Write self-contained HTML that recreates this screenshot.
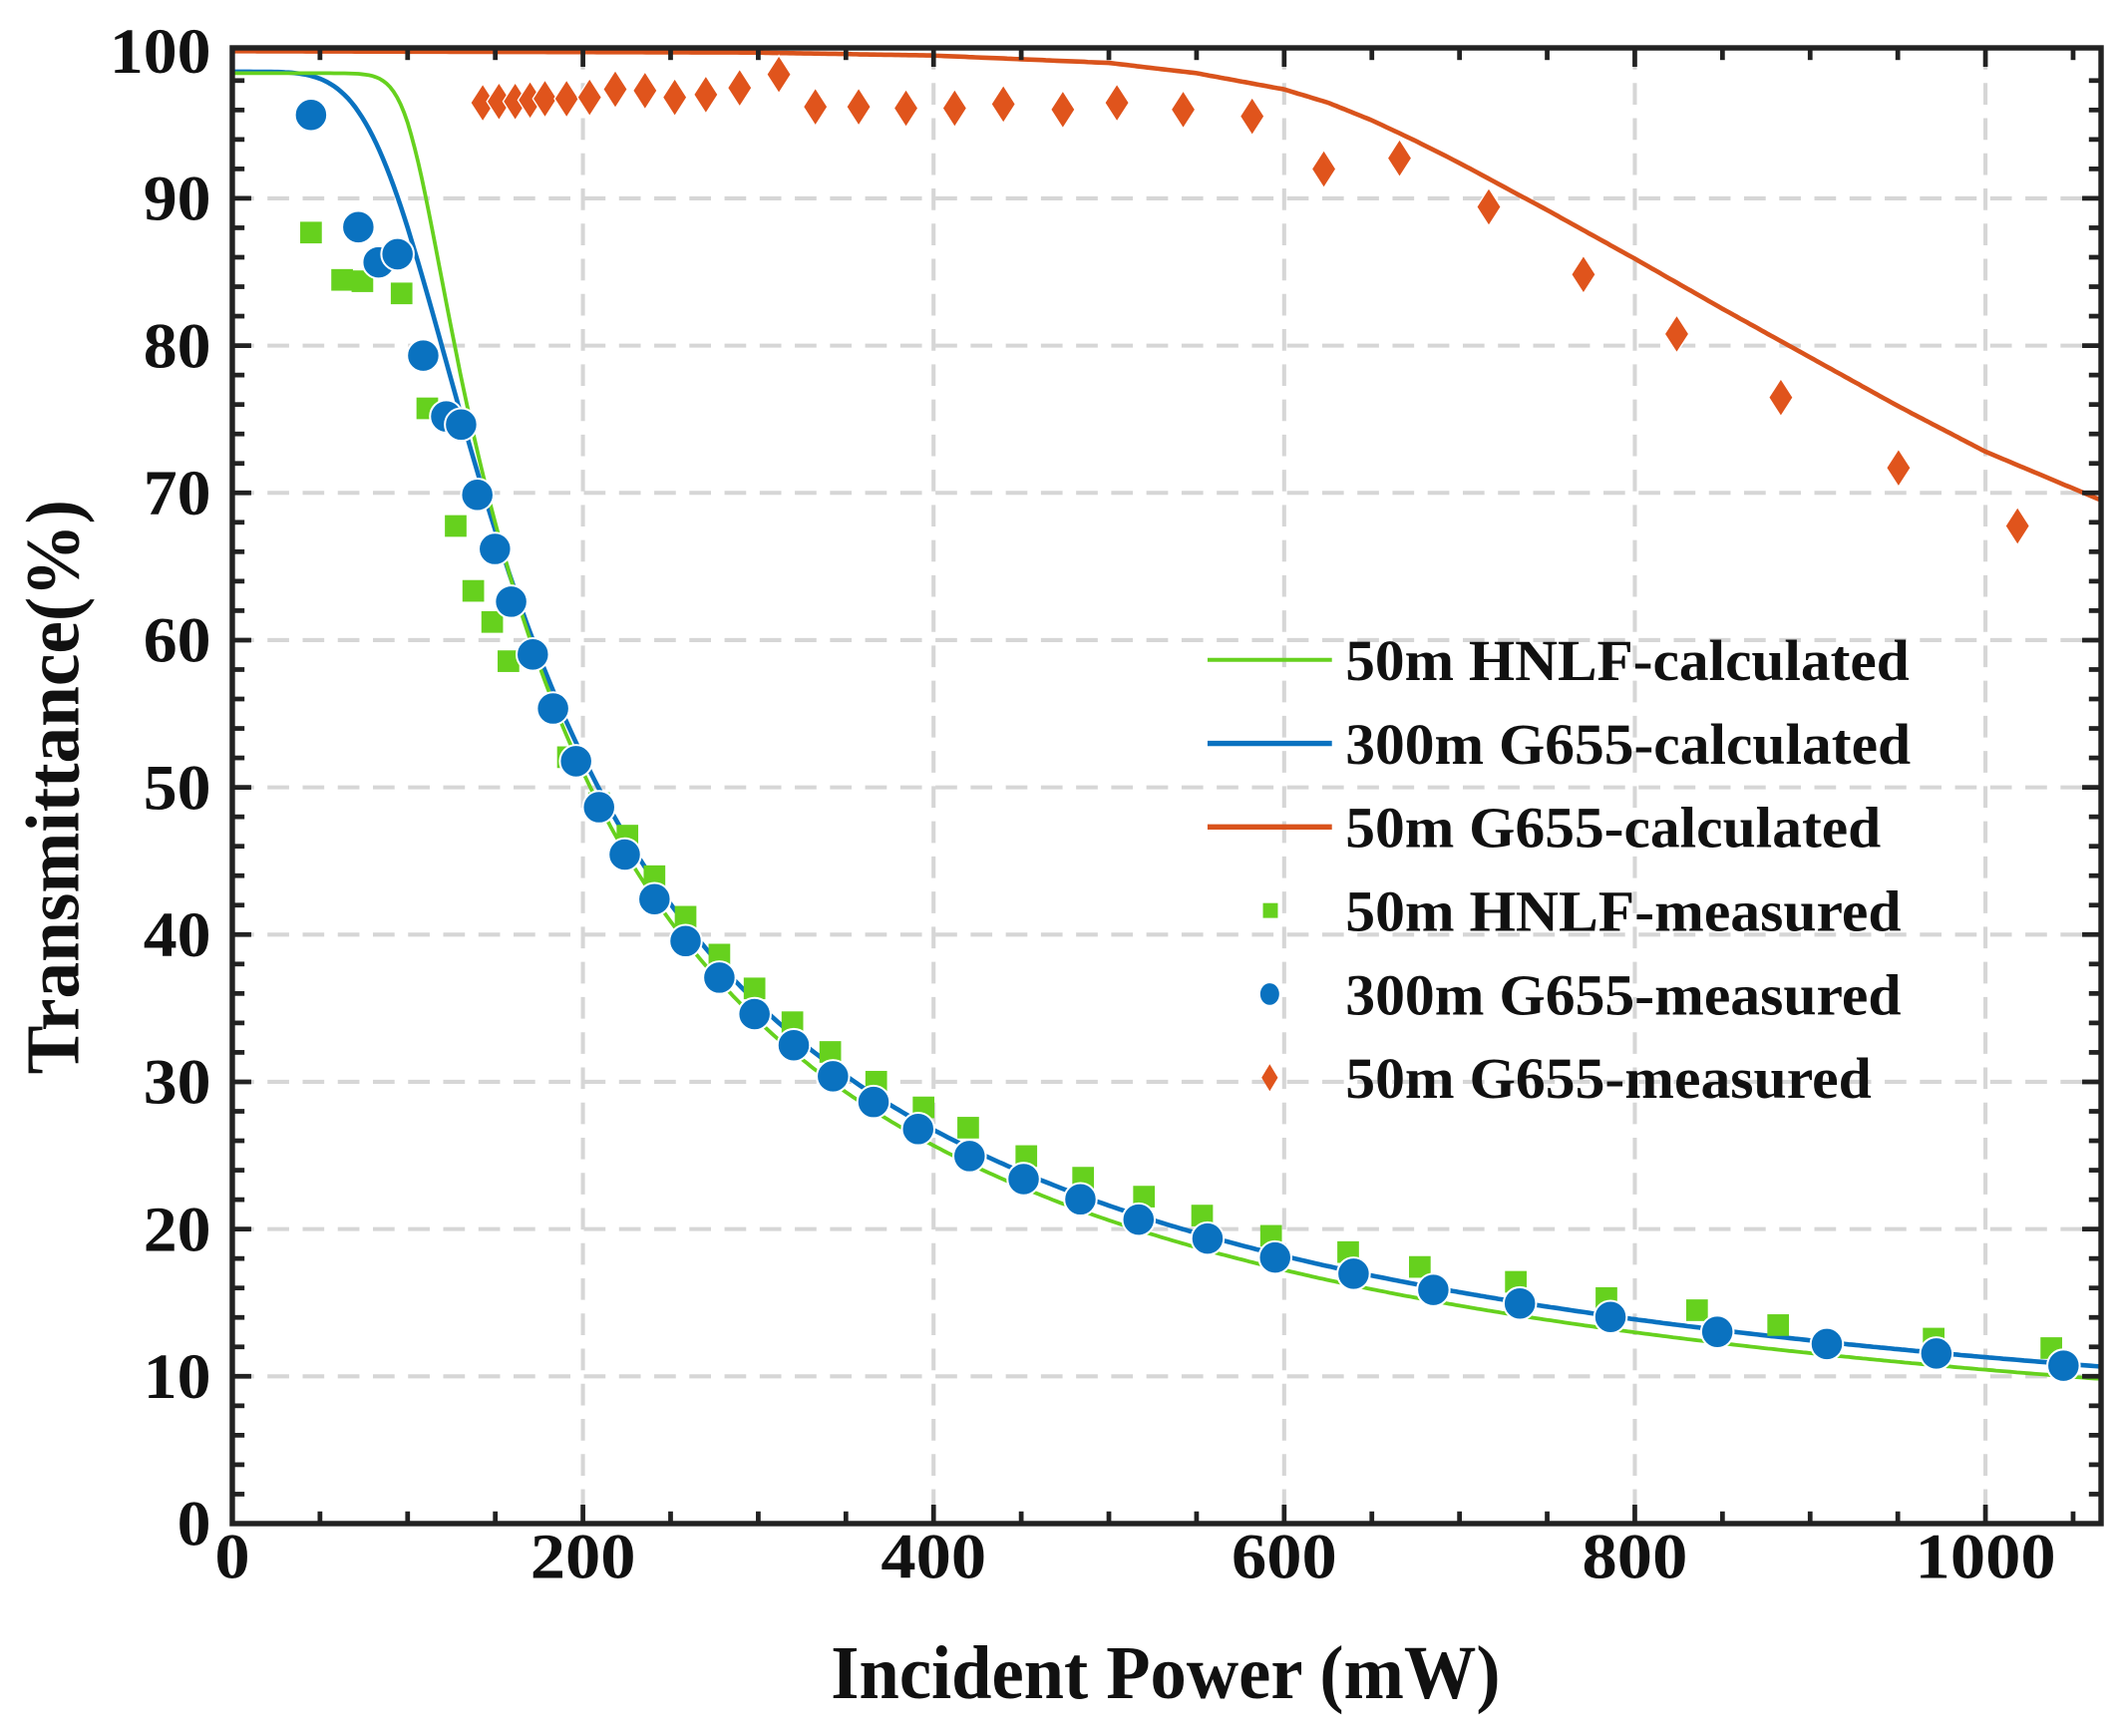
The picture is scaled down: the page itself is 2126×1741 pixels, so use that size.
<!DOCTYPE html>
<html><head><meta charset="utf-8"><style>
html,body{margin:0;padding:0;background:#fff;}
svg{display:block;}
text{font-family:"Liberation Serif","Times New Roman",serif;font-weight:bold;fill:#111;}
</style></head><body>
<svg id="s" width="2126" height="1741" viewBox="0 0 1567.8 1283.9" preserveAspectRatio="none" xmlns="http://www.w3.org/2000/svg">
<rect width="1567.8" height="1283.9" fill="#fff"/>
<g id="grid" stroke="#d6d6d6" stroke-width="3" stroke-dasharray="16 10"></g>
<g id="curves" fill="none" stroke-width="3"></g>
<g id="pts"></g>
<g id="axes"></g>
<g id="labels"></g>
<g id="legend"></g>
<text x="862" y="1256" font-family="Liberation Serif, serif" font-size="56" text-anchor="middle" textLength="495" lengthAdjust="spacingAndGlyphs">Incident Power (mW)</text>
<text transform="translate(58,582) rotate(-90)" font-family="Liberation Serif, serif" font-size="56" text-anchor="middle" textLength="425" lengthAdjust="spacingAndGlyphs">Transmittance(%)</text>
</svg>
<script>
var NS="http://www.w3.org/2000/svg";
function el(p,t,a){var e=document.createElementNS(NS,t);for(var k in a)e.setAttribute(k,a[k]);document.getElementById(p).appendChild(e);return e;}
var L=171.8,R=1553.8,T=35.4,B=1126.8;
function X(p){return L+p*1.2965;}function Y(t){return B-t*10.89;}
for(var p=200;p<=1000;p+=200)el("grid","line",{x1:X(p),x2:X(p),y1:T,y2:B});
for(var t=10;t<100;t+=10)el("grid","line",{x1:L,x2:R,y1:Y(t),y2:Y(t)});
function soft(a,b,n){return Math.pow(Math.pow(a,-n)+Math.pow(b,-n),-1/n);}
function path(f,col,w){var d="";for(var p=0;p<=1066;p+=2){var v=f(Math.max(p,0.5));d+=(p?"L":"M")+X(p).toFixed(1)+" "+Y(v).toFixed(1);}el("curves","path",{d:d,stroke:col,"stroke-width":w});}
var op=[[0,100],[300,99.9],[400,99.7],[500,99.2],[550,98.5],[600,97.4],[625,96.5],[650,95.3],[675,93.9],[700,92.4],[725,90.8],[750,89.2],[800,85.9],[850,82.5],[900,79.2],[950,75.9],[1000,72.8],[1066,69.5]];
function orange(p){for(var i=1;i<op.length;i++){if(p<=op[i][0]){var a=op[i-1],b=op[i];return a[1]+(b[1]-a[1])*(p-a[0])/(b[0]-a[0]);}}return 69.5;}
path(function(p){return soft(98.6,10300/p+1.0,5);},"#0a72c0",3.4);
path(function(p){return soft(98.5,10150/p+0.3,14);},"#66d11e",2.8);
path(orange,"#d9531c",3.4);
var g=[[230,172],[253,207],[268,208],[297,217],[316,302],[337,389],[350,437],[364,460],[376,489],[420,560],[443,594],[464,618],[484,648],[507,678],[532,706],[558,731],[586,756],[614,778],[648,800],[683,819],[716,834],[759,855],[801,871],[846,885],[889,899],[940,914],[997,926],[1050,937],[1121,948],[1188,960],[1255,969],[1315,980],[1430,990],[1517,997]];
g.forEach(function(q){el("pts","rect",{x:q[0]-8,y:q[1]-8,width:16,height:16,fill:"#66d11e"});});
var b=[[230,85],[265,168],[280,194],[294,188],[313,263],[330,308],[341,314],[353,366],[366,406],[378,445],[394,484],[409,524],[426,563],[443,597],[462,632],[484,665],[507,696],[532,723],[558,750],[587,773],[616,796],[646,815],[679,835],[717,855],[757,872],[799,887],[842,902],[893,916],[943,930],[1001,942],[1060,954],[1124,964],[1191,974],[1270,985],[1351,994],[1432,1001],[1526,1010]];
b.forEach(function(q){el("pts","circle",{cx:q[0],cy:q[1],r:12,fill:"#0a72c0",stroke:"#fff","stroke-width":1.5});});
var o=[[357,76],[369,75],[381,75],[392,74],[403,73],[419,73],[436,72],[455,66],[477,67],[499,72],[522,70],[547,65],[576,55],[603,79],[635,79],[670,80],[706,80],[742,77],[786,81],[826,76],[875,81],[926,86],[979,125],[1035,117],[1101,153],[1171,203],[1240,247],[1317,294],[1404,346],[1492,389]];
o.forEach(function(q){var x=q[0],y=q[1];el("pts","path",{d:"M"+x+" "+(y-14)+"L"+(x+9)+" "+y+"L"+x+" "+(y+14)+"L"+(x-9)+" "+y+"Z",fill:"#e0541c",stroke:"#fff","stroke-width":1});});
el("axes","rect",{x:L,y:T,width:R-L,height:B-T,fill:"none",stroke:"#222","stroke-width":4});
for(var p=50;p<1066;p+=50){var mj=p%200==0,len=mj?14:9;
 el("axes","line",{x1:X(p),x2:X(p),y1:B,y2:B-len,stroke:"#222","stroke-width":3.5});
 el("axes","line",{x1:X(p),x2:X(p),y1:T,y2:T+len,stroke:"#222","stroke-width":3.5});}
for(var t=2;t<100;t+=2){var mj=t%10==0,len=mj?14:9;
 el("axes","line",{x1:L,x2:L+len,y1:Y(t),y2:Y(t),stroke:"#222","stroke-width":3.5});
 el("axes","line",{x1:R,x2:R-len,y1:Y(t),y2:Y(t),stroke:"#222","stroke-width":3.5});}
for(var t=0;t<=100;t+=10){var s=String(t);var e=el("labels","text",{x:156,y:Y(t)+16,"font-size":48,"text-anchor":"end",textLength:s.length*25,lengthAdjust:"spacingAndGlyphs"});e.textContent=s;}
for(var p=0;p<=1000;p+=200){var s=String(p);var e=el("labels","text",{x:X(p),y:1167,"font-size":48,"text-anchor":"middle",textLength:s.length*26,lengthAdjust:"spacingAndGlyphs"});e.textContent=s;}
var items=[["50m HNLF-calculated","#66d11e","l",417],["300m G655-calculated","#0a72c0","l",418],["50m G655-calculated","#d9531c","l",396],["50m HNLF-measured","#66d11e","s",411],["300m G655-measured","#0a72c0","c",411],["50m G655-measured","#e0541c","d",389]];
items.forEach(function(it,i){var y=488+i*61.8;
 if(it[2]=="l")el("legend","line",{x1:893,x2:985,y1:y,y2:y,stroke:it[1],"stroke-width":it[1]=="#66d11e"?3:4});
 else if(it[2]=="s")el("legend","rect",{x:934,y:y-5.5,width:11,height:11,fill:it[1]});
 else if(it[2]=="c")el("legend","ellipse",{cx:939,cy:y,rx:7,ry:8,fill:it[1]});
 else el("legend","path",{d:"M939 "+(y-10)+"L945 "+y+"L939 "+(y+10)+"L933 "+y+"Z",fill:it[1]});
 var e=el("legend","text",{x:995,y:y+15,"font-size":43,textLength:it[3],lengthAdjust:"spacingAndGlyphs"});e.textContent=it[0];});
</script>
</body></html>
